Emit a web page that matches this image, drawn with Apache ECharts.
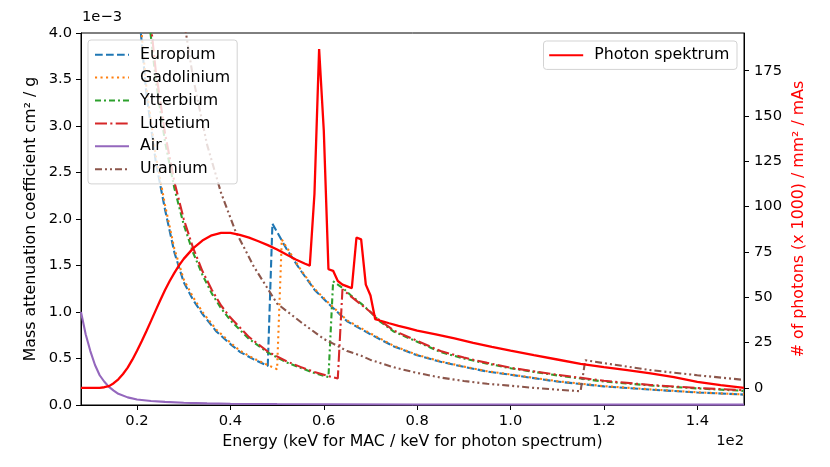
<!DOCTYPE html>
<html>
<head>
<meta charset="utf-8">
<script src="https://cdn.jsdelivr.net/npm/echarts@6/dist/echarts.min.js"></script>
<style>
html,body{margin:0;padding:0;background:#fff;}
#chart{width:830px;height:467px;}
</style>
</head>
<body>
<div id="chart"></div>
<script>
// ---- Data (energies in keV, MAC in units of 1e-3 cm^2/g, photons x1000 / mm^2 / mAs) ----
const xTicks = [20, 40, 60, 80, 100, 120, 140];
const rightTicks = [0, 25, 50, 75, 100, 125, 150, 175];

const euE = [18,20,22,24,26,28,30,32,34,37,40,42,45,48,49,52,55,58,61,65,70,75,80,85,90,95,100,110,120,130,140,150];
const euV = [6.0,4.45,3.35,2.62,2.1,1.64,1.32,1.13,0.98,0.79,0.655,0.572,0.49,0.42,1.95,1.68,1.45,1.24,1.09,0.90,0.76,0.63,0.535,0.465,0.41,0.36,0.325,0.252,0.2,0.165,0.135,0.112];

const gdE = [18,20,22,24,26,28,30,32,34,37,40,42,45,48,50,51,55,58,61,65,70,75,80,85,90,95,100,110,120,130,140,150];
const gdV = [6.1,4.55,3.42,2.68,2.15,1.68,1.35,1.16,1.0,0.81,0.67,0.585,0.5,0.43,0.385,1.78,1.46,1.25,1.1,0.91,0.77,0.635,0.54,0.47,0.413,0.363,0.328,0.256,0.203,0.168,0.137,0.114];

const ybE = [20,22,24,26,28,30,32,34,36,38,40,44,48,52,55,58,61,62,64,66,68,70,72,75,80,85,90,95,100,110,120,130,140,150];
const ybV = [5.5,4.4,3.5,2.83,2.33,1.94,1.64,1.4,1.2,1.04,0.91,0.71,0.565,0.458,0.4,0.343,0.3,1.33,1.26,1.17,1.09,1.0,0.9,0.79,0.68,0.57,0.5,0.445,0.395,0.318,0.252,0.21,0.178,0.152];

const luE = [20,22,24,26,28,30,32,34,36,38,40,44,48,52,55,58,61,63,64,66,68,70,72,75,80,85,90,95,100,110,120,130,140,150];
const luV = [5.7,4.55,3.6,2.92,2.4,2.0,1.69,1.44,1.24,1.07,0.94,0.73,0.575,0.47,0.41,0.355,0.31,0.285,1.245,1.16,1.08,1.0,0.91,0.8,0.69,0.58,0.51,0.453,0.4,0.325,0.26,0.215,0.183,0.158];

const airE = [8,9,10,11,12,13,14,15,16,18,20,23,26,30,35,40,50,60,80,100,150];
const airV = [1.0,0.76,0.58,0.43,0.32,0.25,0.195,0.155,0.12,0.082,0.06,0.043,0.034,0.025,0.018,0.014,0.01,0.008,0.006,0.005,0.004];

const uE = [28,30,32,35,38,41,45,50,55,60,62,65,68,70,75,80,85,90,95,100,105,110,115,116,120,130,140,150];
const uV = [4.93,4.15,3.52,2.8,2.28,1.88,1.49,1.09,0.895,0.71,0.66,0.58,0.53,0.485,0.405,0.345,0.295,0.258,0.228,0.207,0.184,0.165,0.148,0.482,0.45,0.375,0.32,0.27];

const specE = [8,10,12,13,14,15,16,17,18,19,20,21,22,23,24,25,26,27,28,29,30,32,34,36,38,40,42,44,46,48,50,52,54,56,57,58,59,60,61,62,63,64,65,66,67,68,69,70,71,72,74,76,78,80,84,88,92,96,100,105,110,115,120,125,130,135,140,145,150];
const specN = [0,0,0.1,0.4,1.0,2.6,4.8,7.7,11.2,15.6,20.5,25.8,31.3,37.0,42.8,48.5,54.0,59.0,63.5,67.6,71.2,77.0,81.3,84.2,85.5,85.6,84.4,82.9,80.9,78.8,76.4,73.6,70.9,68.5,67.5,107,187,142,65.5,64.6,59.0,57.0,56.0,55.0,83.0,82.0,57.0,51.0,38.0,37.2,35.7,34.3,33.0,31.6,29.6,27.3,24.9,22.7,20.6,18.1,15.7,13.3,11.5,9.8,8.0,6.0,3.4,1.6,0];

const pairs = (E, V) => E.map((e, i) => [e, V[i]]);
const FONT = 'DejaVu Sans';
const TICK_FS = 14.7;
const LEG_FS = 15.8;

function macSeries(name, E, V, color, dash) {
  return {
    name: name, type: 'line', xAxisIndex: 0, yAxisIndex: 0,
    data: pairs(E, V), symbol: 'none', silent: true, clip: true,
    lineStyle: { color: color, width: 2.1, type: dash },
    itemStyle: { color: color }
  };
}

const legendCommon = {
  orient: 'vertical', itemWidth: 34, itemHeight: 14, itemGap: 4.9,
  backgroundColor: 'rgba(255,255,255,0.8)', borderColor: '#d3d3d3', borderWidth: 1, borderRadius: 3,
  itemStyle: { opacity: 0 },
  textStyle: { fontSize: LEG_FS, fontFamily: FONT, color: '#000', lineHeight: 18, padding: [0, 0, 0, 6] },
  selectedMode: false
};

const chart = echarts.init(document.getElementById('chart'), null, { renderer: 'canvas' });
chart.setOption({
  animation: false,
  backgroundColor: '#fff',
  textStyle: { fontFamily: FONT },
  grid: { left: 81, right: 86, top: 33, bottom: 62, show: true, borderColor: '#000', borderWidth: 1, backgroundColor: 'transparent' },
  xAxis: {
    type: 'value', min: 8, max: 150,
    axisLine: { show: true, lineStyle: { color: '#000', width: 1 } },
    axisTick: { show: true, inside: false, length: 5, customValues: xTicks, lineStyle: { color: '#000' } },
    axisLabel: { customValues: xTicks, margin: 9, fontSize: TICK_FS, fontFamily: FONT, color: '#000',
      formatter: v => (v / 100).toFixed(1) },
    splitLine: { show: false }
  },
  yAxis: [{
    type: 'value', min: 0, max: 4, interval: 0.5, position: 'left',
    axisLine: { show: true, lineStyle: { color: '#000', width: 1 } },
    axisTick: { show: true, length: 5, lineStyle: { color: '#000' } },
    axisLabel: { margin: 9, fontSize: TICK_FS, fontFamily: FONT, color: '#000', formatter: v => v.toFixed(1) },
    splitLine: { show: false }
  }, {
    type: 'value', min: -9.4, max: 195.8, position: 'right',
    axisLine: { show: true, lineStyle: { color: '#000', width: 1 } },
    axisTick: { show: true, length: 5, customValues: rightTicks, lineStyle: { color: '#000' } },
    axisLabel: { customValues: rightTicks, margin: 10, fontSize: TICK_FS, fontFamily: FONT, color: '#000' },
    splitLine: { show: false }
  }],
  legend: [Object.assign({}, legendCommon, {
    data: ['Europium', 'Gadolinium', 'Ytterbium', 'Lutetium', 'Air', 'Uranium'],
    left: 88, top: 40, padding: [5.7, 7, 5.7, 6]
  }), Object.assign({}, legendCommon, {
    data: ['Photon spektrum'],
    right: 93, top: 41, padding: [5.2, 7.5, 5.2, 4.7]
  })],
  series: [
    macSeries('Europium', euE, euV, '#1f77b4', [7.7, 3.3]),
    macSeries('Gadolinium', gdE, gdV, '#ff7f0e', [2.1, 3.4]),
    macSeries('Ytterbium', ybE, ybV, '#2ca02c', [6, 3, 2, 3]),
    macSeries('Lutetium', luE, luV, '#d62728', [12, 3.3, 2.1, 3.3]),
    macSeries('Air', airE, airV, '#9467bd', 'solid'),
    macSeries('Uranium', uE, uV, '#8c564b', [7, 3, 2, 3, 2, 3]),
    {
      name: 'Photon spektrum', type: 'line', xAxisIndex: 0, yAxisIndex: 1,
      data: pairs(specE, specN), symbol: 'none', silent: true, z: 5,
      lineStyle: { color: '#ff0000', width: 2.3, type: 'solid' },
      itemStyle: { color: '#ff0000' }
    }
  ],
  graphic: [
    { type: 'text', left: 82, top: 10, style: { text: '1e\u22123', fontSize: TICK_FS, fontFamily: FONT, fill: '#000' } },
    { type: 'text', right: 86, top: 434, style: { text: '1e2', fontSize: TICK_FS, fontFamily: FONT, fill: '#000' } },
    { type: 'text', x: 412.5, y: 442, style: { text: 'Energy (keV for MAC / keV for photon spectrum)', fontSize: LEG_FS, fontFamily: FONT, fill: '#000', textAlign: 'center', textVerticalAlign: 'middle' } },
    { type: 'text', x: 31, y: 219, rotation: Math.PI / 2, style: { text: 'Mass attenuation coefficient cm² / g', fontSize: LEG_FS, fontFamily: FONT, fill: '#000', textAlign: 'center', textVerticalAlign: 'middle' } },
    { type: 'text', x: 799, y: 219, rotation: Math.PI / 2, style: { text: '# of photons (x 1000) / mm² / mAs', fontSize: LEG_FS, fontFamily: FONT, fill: '#ff0000', textAlign: 'center', textVerticalAlign: 'middle' } }
  ]
});
</script>
</body>
</html>
